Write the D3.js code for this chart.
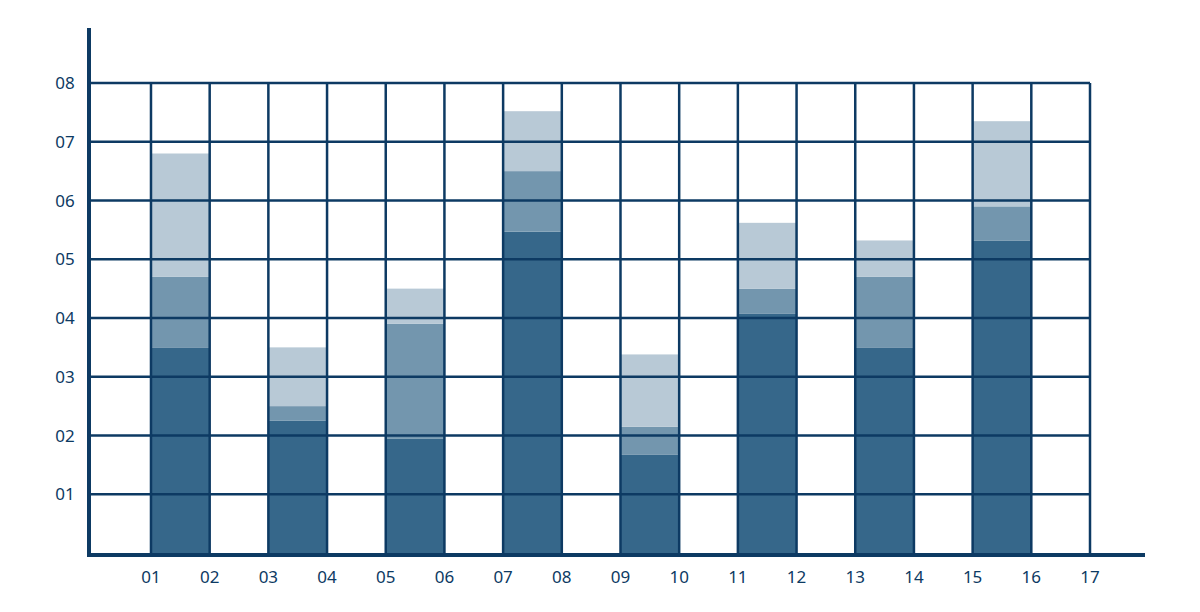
<!DOCTYPE html>
<html><head><meta charset="utf-8">
<script src="https://cdn.jsdelivr.net/npm/d3@7"></script>
<style>body{margin:0;background:#fff}text{font-family:"Noto Sans",sans-serif}</style>
</head><body><svg id="chart" width="1200" height="612"></svg>
<script>
// bars start at these x ticks and cover one step
const starts = [1, 3, 5, 7, 9, 11, 13, 15];
const darkVals = [3.5, 2.25, 1.95, 5.47, 1.67, 4.07, 3.5, 5.32];
const midVals = [1.2, 0.25, 1.95, 1.03, 0.48, 0.43, 1.2, 0.58];
const lightVals = [2.1, 1.0, 0.6, 1.02, 1.23, 1.12, 0.62, 1.45];
const xTicks = d3.range(1, 18);
const yTicks = d3.range(1, 9);
const fmt = d => String(d).padStart(2, '0');

const ink = '#0d3a63';
const svg = d3.select('#chart');
const x = d3.scaleLinear().domain([0, 17]).range([92.3, 1090]);
const y = d3.scaleLinear().domain([0, 8]).range([553, 83]);

const stackData = starts.map((s, i) => ({s, dark: darkVals[i], mid: midVals[i], light: lightVals[i]}));
const series = d3.stack().keys(['dark', 'mid', 'light'])(stackData);
const colors = {dark: '#36678a', mid: '#7396ae', light: '#b8c9d6'};

svg.append('g').selectAll('g').data(series).join('g')
    .attr('fill', d => colors[d.key])
  .selectAll('rect').data(d => d).join('rect')
    .attr('x', d => x(d.data.s))
    .attr('width', d => x(d.data.s + 1) - x(d.data.s))
    .attr('y', d => y(d[1]))
    .attr('height', d => y(d[0]) - y(d[1]));

// grid on top of the bars
const grid = svg.append('g').attr('stroke', ink).attr('stroke-width', 2.5);
grid.selectAll('.h').data(yTicks).join('line')
    .attr('x1', 89).attr('x2', x(17))
    .attr('y1', d => y(d)).attr('y2', d => y(d));
grid.selectAll('.v').data(xTicks).join('line')
    .attr('x1', d => x(d)).attr('x2', d => x(d))
    .attr('y1', y(8)).attr('y2', y(0));

// axes
svg.append('line').attr('x1', 89).attr('x2', 89).attr('y1', 28).attr('y2', 556)
    .attr('stroke', ink).attr('stroke-width', 4);
svg.append('line').attr('x1', 87).attr('x2', 1145).attr('y1', 555).attr('y2', 555)
    .attr('stroke', ink).attr('stroke-width', 4);

svg.append('g').selectAll('text').data(yTicks).join('text')
    .attr('x', 65).attr('y', d => y(d) + 6).attr('text-anchor', 'middle')
    .attr('fill', ink).attr('font-size', 17).text(fmt);
svg.append('g').selectAll('text').data(xTicks).join('text')
    .attr('x', d => x(d)).attr('y', 583).attr('text-anchor', 'middle')
    .attr('fill', ink).attr('font-size', 17).text(fmt);
</script></body></html>
